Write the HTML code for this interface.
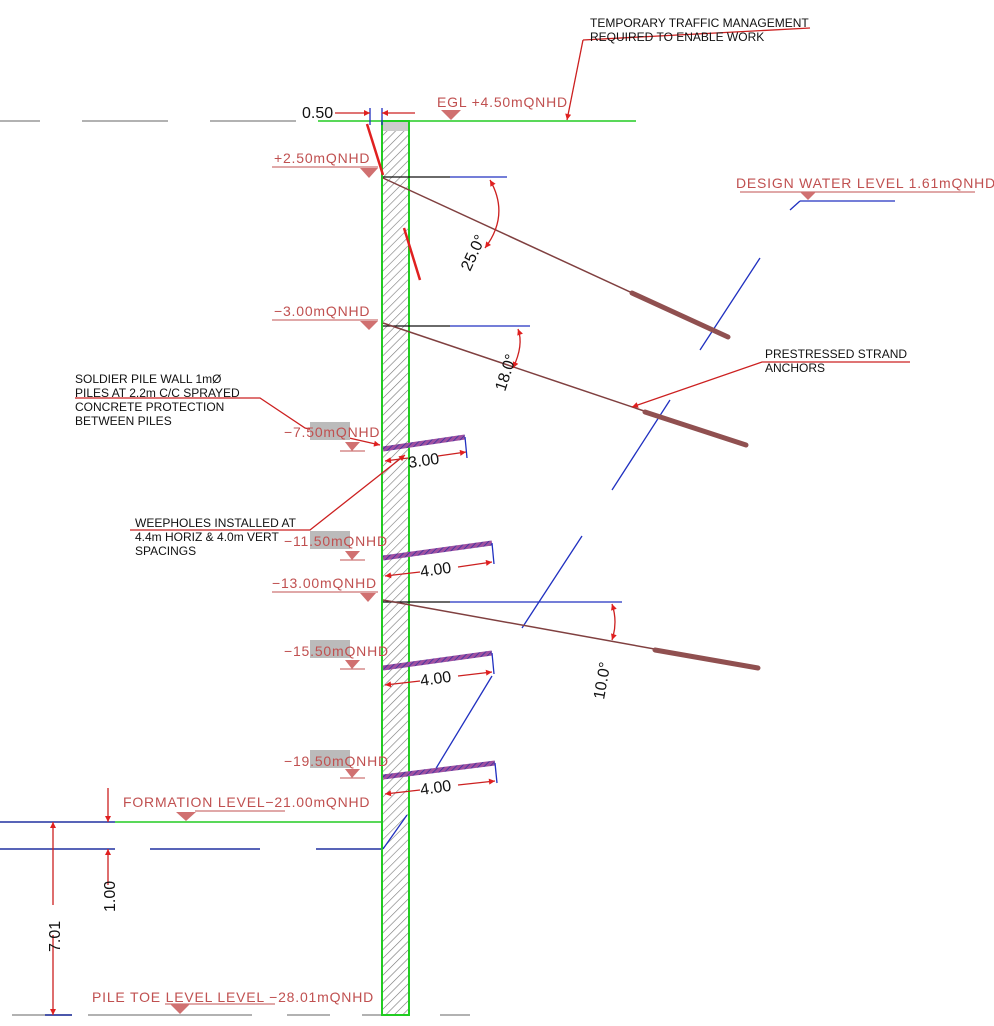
<!DOCTYPE html><html><head><style>body{margin:0;background:#fff}svg{display:block}text{font-family:"Liberation Sans",sans-serif}</style></head><body>
<svg width="994" height="1026" viewBox="0 0 994 1026" xmlns="http://www.w3.org/2000/svg">
<defs><pattern id="h" width="6" height="6" patternUnits="userSpaceOnUse" patternTransform="rotate(45)"><rect width="6" height="6" fill="#fff"/><line x1="0" y1="0" x2="0" y2="6" stroke="#777" stroke-width="1.2"/></pattern>
<pattern id="p" width="4" height="4" patternUnits="userSpaceOnUse" patternTransform="rotate(45)"><rect width="4" height="4" fill="#a050a0"/><line x1="0" y1="0" x2="0" y2="4" stroke="#3030a0" stroke-width="1.5"/></pattern>
<marker id="a" viewBox="0 0 10 10" refX="10" refY="5" markerWidth="14" markerHeight="6" markerUnits="userSpaceOnUse" orient="auto-start-reverse"><path d="M0 0L10 5L0 10Z" fill="#e02020"/></marker></defs>
<g stroke="#999" stroke-width="1.5"><line x1="0" y1="121" x2="40" y2="121"/><line x1="82" y1="121" x2="168" y2="121"/><line x1="210" y1="121" x2="296" y2="121"/>
<line x1="12" y1="1015" x2="72" y2="1015"/><line x1="88" y1="1015" x2="252" y2="1015"/><line x1="287" y1="1015" x2="330" y2="1015"/><line x1="362" y1="1015" x2="382" y2="1015"/><line x1="440" y1="1015" x2="470" y2="1015"/></g>
<g stroke="#2030a0" stroke-width="1.5"><line x1="0" y1="822" x2="115" y2="822"/><line x1="0" y1="849" x2="115" y2="849"/><line x1="150" y1="849" x2="260" y2="849"/><line x1="316" y1="849" x2="382" y2="849"/><line x1="45" y1="1015" x2="72" y2="1015"/></g>
<rect x="382" y="121" width="27" height="894" fill="url(#h)" stroke="#22cc22" stroke-width="2"/>
<rect x="383" y="122" width="25" height="9" fill="#ccc"/>
<line x1="318" y1="121" x2="636" y2="121" stroke="#22cc22" stroke-width="1.5"/>
<line x1="115" y1="822" x2="382" y2="822" stroke="#22cc22" stroke-width="1.5"/>
<g stroke="#2030c0" stroke-width="1.3"><line x1="700" y1="350" x2="760" y2="258"/><line x1="612" y1="490" x2="670" y2="400"/><line x1="522" y1="628" x2="582" y2="536"/><line x1="435" y1="770" x2="492" y2="676"/><line x1="383" y1="849" x2="407" y2="815"/>
<line x1="450" y1="177" x2="507" y2="177"/><line x1="450" y1="326" x2="530" y2="326"/><line x1="450" y1="602" x2="622" y2="602"/><line x1="790" y1="210" x2="800" y2="201"/><line x1="800" y1="201" x2="895" y2="201"/>
<line x1="370" y1="108" x2="370" y2="125"/><line x1="382" y1="108" x2="382" y2="125"/></g>
<g stroke="#111" stroke-width="1.3"><line x1="383" y1="177" x2="450" y2="177"/><line x1="383" y1="326" x2="450" y2="326"/><line x1="383" y1="602" x2="450" y2="602"/></g>
<g stroke="#804040" stroke-width="1.5"><line x1="383" y1="178" x2="730" y2="338"/><line x1="383" y1="323" x2="748" y2="446"/><line x1="383" y1="600" x2="760" y2="668"/></g>
<g stroke="#905050" stroke-width="5" stroke-linecap="round"><line x1="632" y1="293" x2="728" y2="337"/><line x1="645" y1="412" x2="746" y2="445"/><line x1="655" y1="650" x2="758" y2="668"/></g>
<g stroke="url(#p)" stroke-width="5"><line x1="383" y1="449" x2="465" y2="437"/><line x1="383" y1="558" x2="492" y2="543"/><line x1="383" y1="668" x2="492" y2="653"/><line x1="383" y1="777" x2="495" y2="763"/></g>
<g stroke="#2030c0" stroke-width="1.3"><line x1="465" y1="437" x2="467" y2="458"/><line x1="492" y1="543" x2="494" y2="564"/><line x1="492" y1="653" x2="494" y2="674"/><line x1="495" y1="763" x2="497" y2="783"/></g>
<g stroke="#e02020" stroke-width="2.5"><line x1="367" y1="124" x2="383" y2="175"/><line x1="404" y1="228" x2="420" y2="280"/></g>
<g stroke="#cc2020" stroke-width="1.3" fill="none">
<path d="M583 40 L810 28"/><path d="M583 40 L567 120" marker-end="url(#a)"/><path d="M335 113 L370 113" marker-end="url(#a)"/><path d="M415 113 L382 113" marker-end="url(#a)"/>
<path d="M910 362 L762 362 L632 407" marker-end="url(#a)"/><path d="M75 398 L260 398 L305 428 L380 445" marker-end="url(#a)"/><path d="M130 530 L310 530 L405 455" marker-end="url(#a)"/>
<path d="M490 180 Q510 215 485 248" marker-start="url(#a)" marker-end="url(#a)"/><path d="M518 329 Q524 345 513 368" marker-start="url(#a)" marker-end="url(#a)"/><path d="M612 604 Q618 622 612 640" marker-start="url(#a)" marker-end="url(#a)"/>
<path d="M408 458 L385 461" marker-end="url(#a)"/><path d="M438 456 L466 452" marker-end="url(#a)"/>
<path d="M420 572 L385 576" marker-end="url(#a)"/><path d="M458 567 L492 562" marker-end="url(#a)"/>
<path d="M420 681 L385 685" marker-end="url(#a)"/><path d="M458 676 L492 672" marker-end="url(#a)"/>
<path d="M420 790 L385 794" marker-end="url(#a)"/><path d="M458 785 L495 781" marker-end="url(#a)"/>
<path d="M108 788 L108 822" marker-end="url(#a)"/><path d="M108 885 L108 849" marker-end="url(#a)"/>
<path d="M53 905 L53 822" marker-end="url(#a)"/><path d="M53 935 L53 1015" marker-end="url(#a)"/>
</g>
<g font-size="14" fill="#c05050" letter-spacing="0.8"><text x="437" y="107">EGL  +4.50mQNHD</text><text x="274" y="163">+2.50mQNHD</text><text x="736" y="188">DESIGN  WATER  LEVEL  1.61mQNHD</text><text x="274" y="316">−3.00mQNHD</text>
<rect x="310" y="422" width="40" height="18" fill="#bbb"/><text x="284" y="437">−7.50mQNHD</text>
<rect x="310" y="531" width="40" height="18" fill="#bbb"/><text x="284" y="546">−11.50mQNHD</text><text x="272" y="588">−13.00mQNHD</text>
<rect x="310" y="640" width="40" height="18" fill="#bbb"/><text x="284" y="656">−15.50mQNHD</text>
<rect x="310" y="750" width="40" height="18" fill="#bbb"/><text x="284" y="766">−19.50mQNHD</text>
<text x="123" y="807">FORMATION  LEVEL−21.00mQNHD</text><text x="92" y="1002">PILE  TOE  LEVEL  LEVEL  −28.01mQNHD</text></g>
<g stroke="#c05050" stroke-width="1"><line x1="272" y1="167" x2="378" y2="167"/><line x1="272" y1="320" x2="378" y2="320"/><line x1="272" y1="592" x2="378" y2="592"/><line x1="740" y1="192" x2="975" y2="192"/>
<line x1="340" y1="451" x2="365" y2="451"/><line x1="340" y1="560" x2="365" y2="560"/><line x1="340" y1="669" x2="365" y2="669"/><line x1="340" y1="778" x2="365" y2="778"/><line x1="195" y1="811" x2="285" y2="811"/><line x1="165" y1="1004" x2="275" y2="1004"/></g>
<g fill="#d07070"><path d="M441 110 L461 110 L451 120Z"/><path d="M360 168 L378 168 L369 178Z"/><path d="M360 321 L378 321 L369 330Z"/><path d="M800 192 L816 192 L808 200Z"/><path d="M345 442 L360 442 L352 451Z"/><path d="M345 551 L360 551 L352 560Z"/><path d="M360 593 L376 593 L368 602Z"/><path d="M345 660 L360 660 L352 669Z"/><path d="M345 769 L360 769 L352 778Z"/><path d="M176 812 L196 812 L186 821Z"/><path d="M170 1004 L190 1004 L180 1014Z"/></g>
<g font-size="12" fill="#111"><text x="590" y="27">TEMPORARY TRAFFIC MANAGEMENT</text><text x="590" y="41">REQUIRED TO ENABLE WORK</text>
<text x="765" y="358">PRESTRESSED STRAND</text><text x="765" y="372">ANCHORS</text>
<text x="75" y="383">SOLDIER PILE WALL 1mØ</text><text x="75" y="397">PILES AT 2.2m C/C SPRAYED</text><text x="75" y="411">CONCRETE PROTECTION</text><text x="75" y="425">BETWEEN PILES</text>
<text x="135" y="527">WEEPHOLES INSTALLED AT</text><text x="135" y="541">4.4m HORIZ &amp; 4.0m VERT</text><text x="135" y="555">SPACINGS</text></g>
<g font-size="16" fill="#111"><text x="302" y="118">0.50</text><text x="409" y="468" transform="rotate(-8 409 468)">3.00</text><text x="421" y="577" transform="rotate(-8 421 577)">4.00</text><text x="421" y="686" transform="rotate(-8 421 686)">4.00</text><text x="421" y="795" transform="rotate(-8 421 795)">4.00</text>
<text x="470" y="272" transform="rotate(-65 470 272)">25.0°</text><text x="505" y="392" transform="rotate(-72 505 392)">18.0°</text><text x="604" y="700" transform="rotate(-80 604 700)">10.0°</text>
<text x="115" y="912" transform="rotate(-90 115 912)">1.00</text><text x="60" y="952" transform="rotate(-90 60 952)">7.01</text></g>
</svg></body></html>
